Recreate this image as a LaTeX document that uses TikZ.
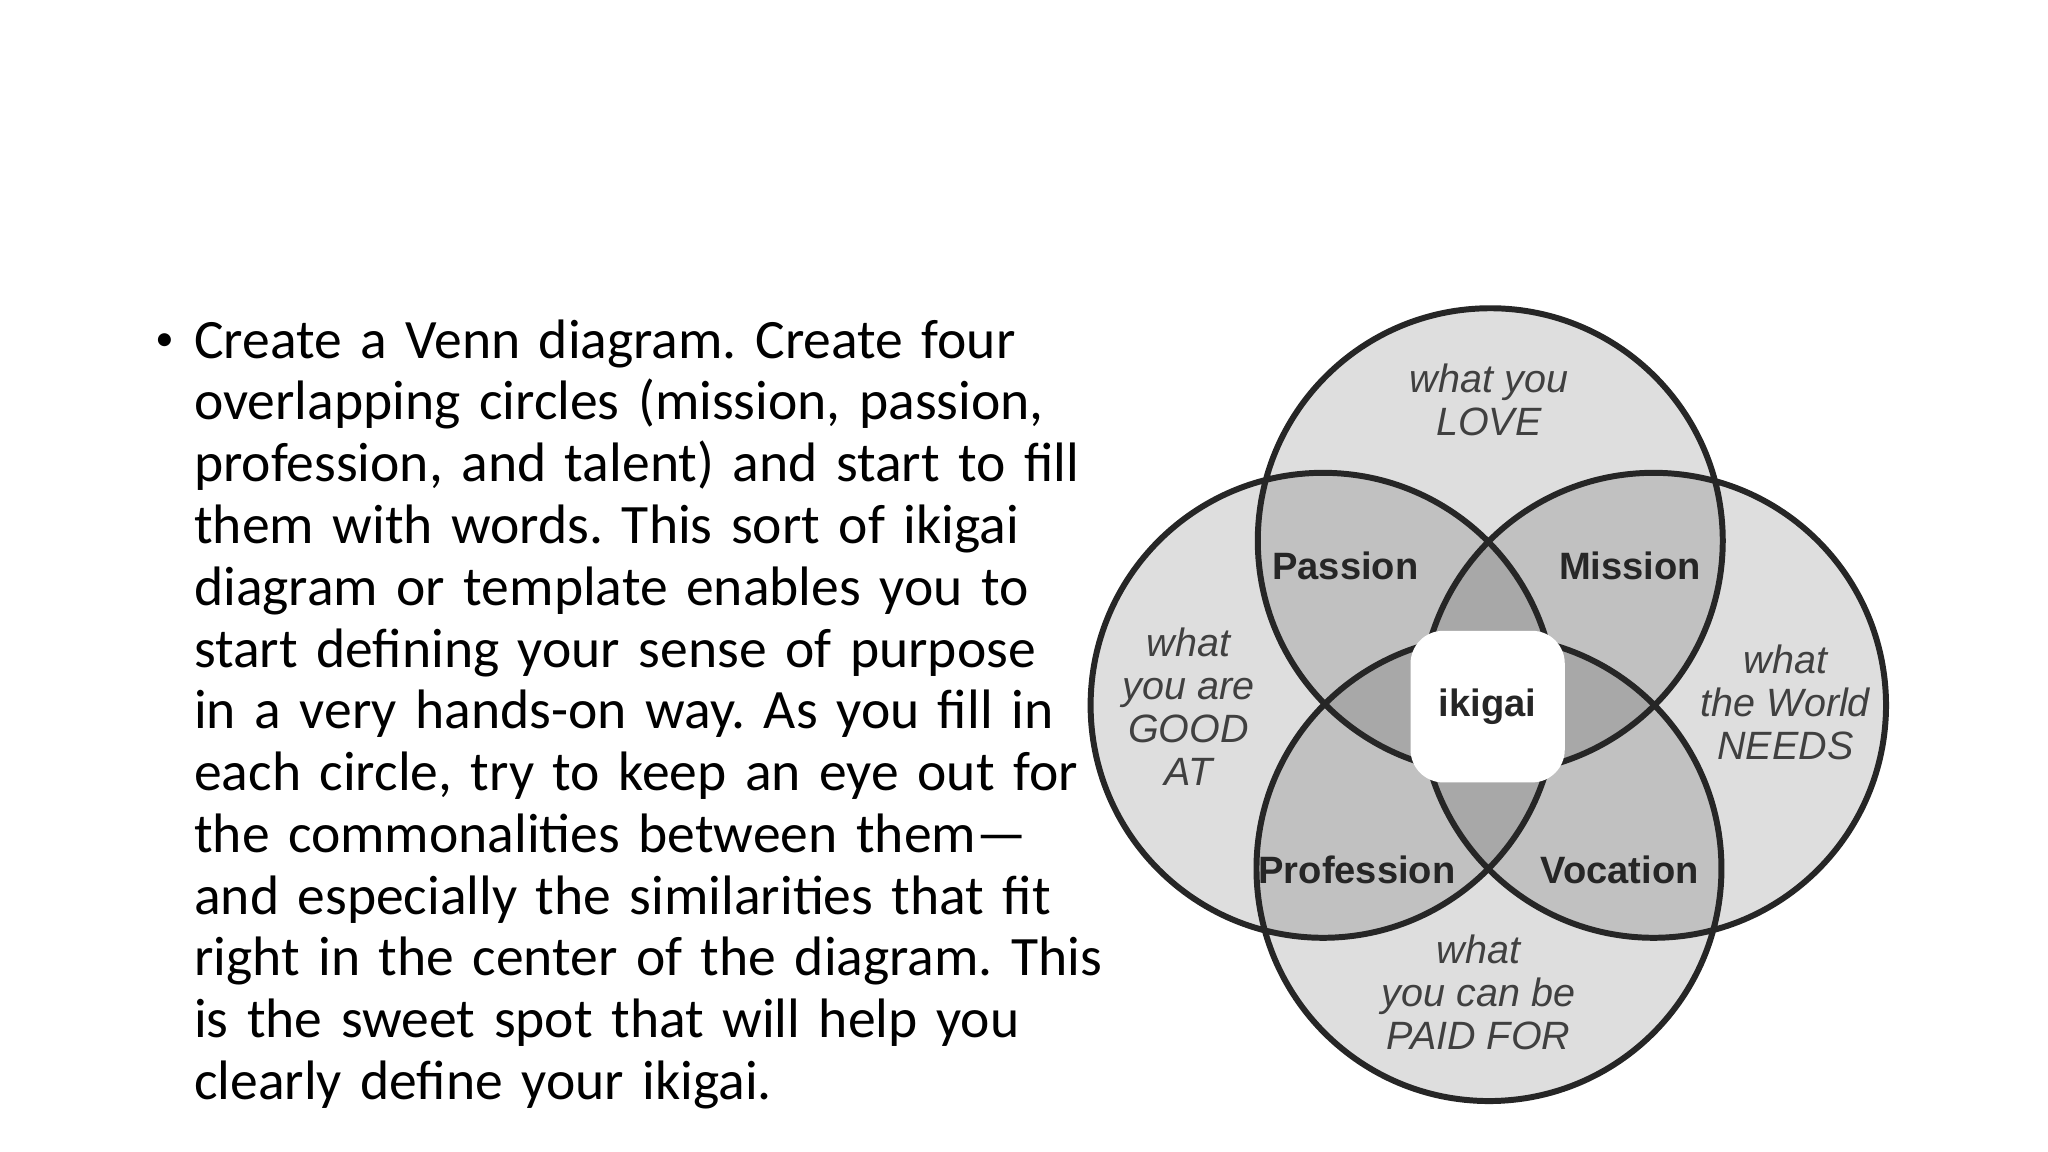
\documentclass[tikz,border=0pt]{standalone}
\usepackage{fontspec}
\setmainfont{Carlito}
\newfontfamily\lab{Liberation Sans}
\begin{document}
\begin{tikzpicture}[x=0.01cm,y=-0.01cm,
  circ/.style={fill=black,fill opacity=0.13},
  bold/.style={font=\lab\bfseries\fontsize{8.3}{10}\selectfont,text=black!85},
  ital/.style={font=\lab\itshape\fontsize{8.6}{9.4}\selectfont,text=black!75,align=center}]
\useasboundingbox (0,0) rectangle (1568,882);
\node[anchor=north west,text width=7.0cm,align=left,inner sep=0,font=\fontsize{12.1}{13.45}\selectfont] (txt) at (148,244)
{\frenchspacing\hyphenpenalty=10000\exhyphenpenalty=10000 Create a Venn diagram. Create four overlapping circles (mission, passion, profession, and talent) and start to fill them with words. This sort of ikigai diagram or template enables you to start defining your sense of purpose in a very hands-on way. As you fill in each circle, try to keep an eye out for the commonalities between them\textemdash\allowbreak and especially the similarities that fit right in the center of the diagram. This is the sweet spot that will help you clearly define your ikigai.};
\node[font=\fontsize{8}{10}\selectfont,anchor=base] (bul) at (126,268) {\textbullet};
\path[circ] (1141,414) circle (178) coordinate (ct);
\path[circ] (1013,540) circle (178) coordinate (cl);
\path[circ] (1266,540) circle (178) coordinate (cr);
\path[circ] (1140,665) circle (178) coordinate (cb);
\draw[draw=black!85,line width=1.3pt] (1141,414) circle (178) (1013,540) circle (178) (1266,540) circle (178) (1140,665) circle (178);
\node[fill=white,rounded corners=0.25cm,minimum width=1.18cm,minimum height=1.16cm,inner sep=0] (box) at (1139,541) {};
\node[bold] (ik) at (box) {ikigai};
\node[bold] (pa) at (1030,433) {Passion};
\node[bold] (mi) at (1248,433) {Mission};
\node[bold] (pr) at (1039,666) {Profession};
\node[bold] (vo) at (1240,666) {Vocation};
\node[ital] (lv) at (1140,306) {what you\\LOVE};
\node[ital] (gd) at (910,541) {what\\you are\\GOOD\\AT};
\node[ital] (nd) at (1367,538) {what\\the World\\NEEDS};
\node[ital] (pf) at (1132,760) {what\\you can be\\PAID FOR};
\end{tikzpicture}
\end{document}
